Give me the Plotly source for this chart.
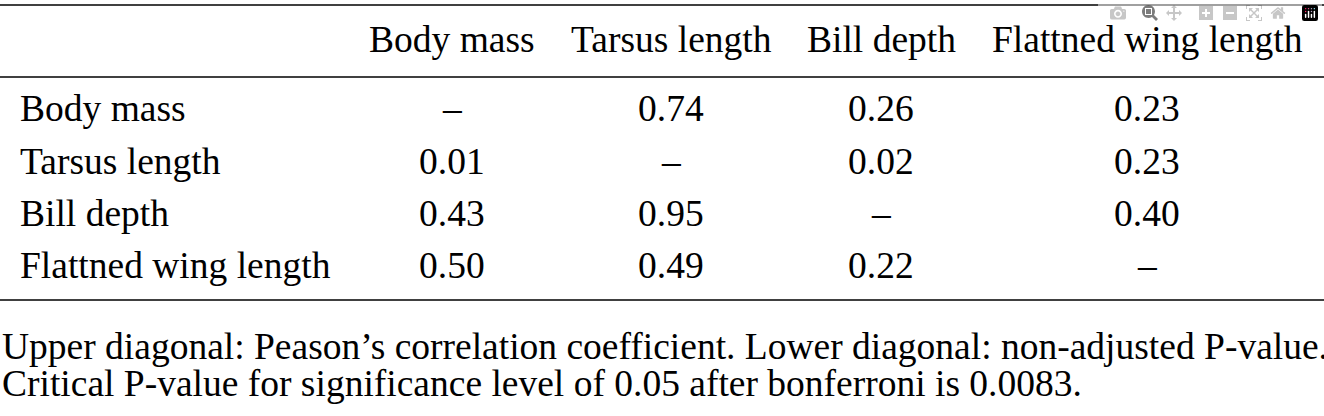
import plotly.graph_objects as go

columns = ["Body mass", "Tarsus length", "Bill depth", "Flattned wing length"]
rows = ["Body mass", "Tarsus length", "Bill depth", "Flattned wing length"]
cells = [
    ["–", "0.74", "0.26", "0.23"],
    ["0.01", "–", "0.02", "0.23"],
    ["0.43", "0.95", "–", "0.40"],
    ["0.50", "0.49", "0.22", "–"],
]
notes = [
    "Upper diagonal: Peason’s correlation coefficient. Lower diagonal: non-adjusted P-value.",
    "Critical P-value for significance level of 0.05 after bonferroni is 0.0083.",
]

col_x = [452, 671, 881, 1147]
row_y = [108, 161, 213, 265]
font = dict(family="Liberation Serif", size=37.5, color="black")

fig = go.Figure()
ann = []
for cx, name in zip(col_x, columns):
    ann.append(dict(x=cx, y=39, text=name, xanchor="center"))
for ry, name, vals in zip(row_y, rows, cells):
    ann.append(dict(x=18, y=ry, text=name, xanchor="left"))
    for cx, v in zip(col_x, vals):
        ann.append(dict(x=cx, y=ry, text=v, xanchor="center"))
for ny, note in zip([346, 383], notes):
    ann.append(dict(x=0, y=ny, text=note, xanchor="left"))
for a in ann:
    a.update(xref="x", yref="y", yanchor="middle", showarrow=False, font=font)

for ly in [5, 77, 300]:
    fig.add_shape(type="line", x0=0, x1=1324, y0=ly, y1=ly,
                  line=dict(color="black", width=1.3))

fig.update_layout(
    width=1324, height=416, margin=dict(l=0, r=0, t=0, b=0),
    plot_bgcolor="white", paper_bgcolor="white", annotations=ann,
    xaxis=dict(range=[0, 1324], visible=False),
    yaxis=dict(range=[416, 0], visible=False),
)
fig.write_html("out.html",
               post_script="document.body.style.margin='0';document.body.style.overflow='hidden';")
